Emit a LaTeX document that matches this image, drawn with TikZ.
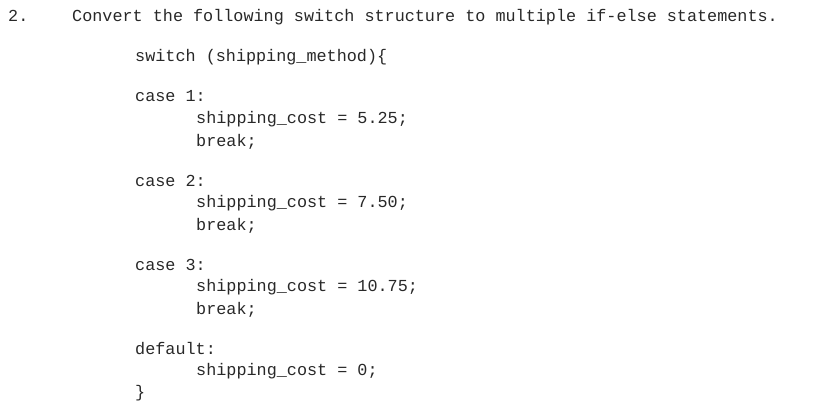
\documentclass[tikz,border=0pt]{standalone}
\usepackage{fontspec}
\setmonofont{Liberation Mono}
\begin{document}
\begin{tikzpicture}[x=1pt,y=-1pt,
  code/.style={anchor=base west,inner sep=0pt,font=\ttfamily\fontsize{16.8}{20}\selectfont,text={rgb,255:red,40;green,40;blue,40}}]
\useasboundingbox (0,0) rectangle (822,412);
\node[code] (num) at (8,22) {2.};
\node[code] (title) at (72,22) {Convert the following switch structure to multiple if-else statements.};
\node[code] (sw) at (135,62) {switch (shipping\_method)\{};
\node[code] (c1) at (135,102) {case 1:};
\node[code] (s1) at (196,123) {shipping\_cost = 5.25;};
\node[code] (b1) at (196,146) {break;};
\node[code] (c2) at (135,186) {case 2:};
\node[code] (s2) at (196,207) {shipping\_cost = 7.50;};
\node[code] (b2) at (196,230) {break;};
\node[code] (c3) at (135,270) {case 3:};
\node[code] (s3) at (196,291) {shipping\_cost = 10.75;};
\node[code] (b3) at (196,314) {break;};
\node[code] (df) at (135,354) {default:};
\node[code] (s4) at (196,375) {shipping\_cost = 0;};
\node[code] (cb) at (135,397) {\}};
\end{tikzpicture}
\end{document}
